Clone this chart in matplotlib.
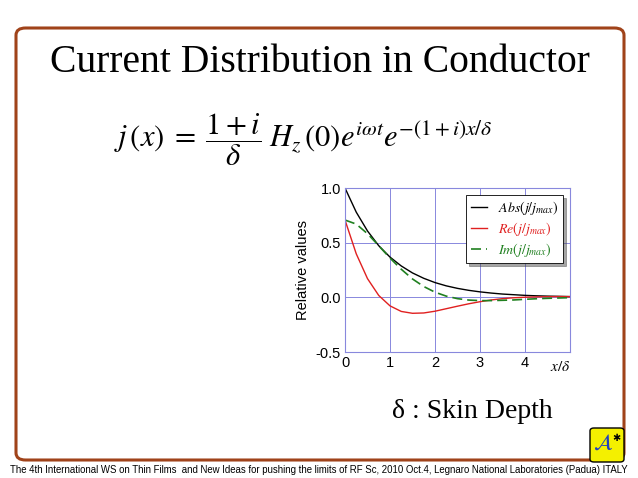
import matplotlib
matplotlib.use("Agg")
import matplotlib.pyplot as plt
import matplotlib.patches as mpatches

plt.rcParams['mathtext.fontset'] = 'stix'
plt.rcParams['font.family'] = ['Liberation Sans', 'DejaVu Sans']

x = [0, .25, .5, .75, 1, 1.25, 1.5, 1.75, 2, 2.25, 2.5, 2.75, 3, 3.25, 3.5, 3.75, 4, 4.25, 4.5, 4.75, 5]
abs_v = [1, .779, .607, .472, .368, .287, .223, .174, .135, .105, .082, .064, .050, .039, .030, .024, .018, .014, .011, .009, .007]
re_v = [.707, .398, .171, .017, -.078, -.129, -.146, -.143, -.127, -.104, -.081, -.059, -.040, -.024, -.012, -.004, .001, .004, .006, .007, .006]
im_v = [.707, .670, .582, .472, .359, .257, .168, .099, .047, .011, -.012, -.025, -.030, -.030, -.027, -.024, -.018, -.013, -.009, -.006, -.003]
xticks = [0, 1, 2, 3, 4]
yticks = [-0.5, 0.0, 0.5, 1.0]

fig = plt.figure(figsize=(6.38, 4.78), dpi=100)
W, H = 638, 478
def fx(p): return p / W
def fy(p): return 1 - p / H

brown = '#a0431a'
fig.add_artist(mpatches.FancyBboxPatch((fx(16), fy(460)), fx(608), fy(28) - fy(460),
               boxstyle="round,pad=0,rounding_size=0.015", transform=fig.transFigure,
               fill=False, edgecolor=brown, lw=2.2))
fig.add_artist(mpatches.FancyBboxPatch((fx(590), fy(462)), fx(34), fy(428) - fy(462),
               boxstyle="round,pad=0,rounding_size=0.006", transform=fig.transFigure,
               facecolor='#f4f000', edgecolor='black', lw=1))
fig.text(fx(603), fy(443), r'$\mathcal{A}$', color='#2040c0', fontsize=16, ha='center', va='center')
fig.text(fx(616), fy(438), '✱', color='black', fontsize=7, ha='center', va='center', family='DejaVu Sans')

fig.text(fx(320), fy(62), 'Current Distribution in Conductor', family='Liberation Serif',
         fontsize=28.5, ha='center', va='center')
fig.text(fx(303), fy(140),
         r'$j\,(x)\;=\;\dfrac{1+i}{\delta}\;H_z\,(0)e^{i\omega t}e^{-(1+i)x/\delta}$',
         fontsize=22, ha='center', va='center')
fig.text(fx(472), fy(412), 'δ : Skin Depth', family='Liberation Serif', fontsize=20,
         ha='center', va='center')
fig.text(fx(319), fy(470), 'The 4th International WS on Thin Films  and New Ideas for pushing the limits of RF Sc, 2010 Oct.4, Legnaro National Laboratories (Padua) ITALY',
         family='Liberation Sans', fontsize=6.9, ha='center', va='center')

ax = fig.add_axes([fx(345), fy(352), fx(570) - fx(345), fy(188) - fy(352)])
ax.plot(x, abs_v, color='black', lw=1, label=r'$\mathit{Abs(j/j_{max})}$')
ax.plot(x, re_v, color='#e02020', lw=1, label=r'$\mathit{Re(j/j_{max})}$')
ax.plot(x, im_v, color='#208020', lw=1.2, ls=(0, (6, 3)), label=r'$\mathit{Im(j/j_{max})}$')
ax.set_xlim(0, 5)
ax.set_ylim(-0.5, 1.0)
ax.set_xticks(xticks)
ax.set_yticks(yticks)
ax.set_yticklabels(['-0.5', '0.0', '0.5', '1.0'])
ax.grid(True, color='#8888dd', lw=0.7)
for s in ax.spines.values():
    s.set_color('#8888dd'); s.set_linewidth(0.8)
ax.tick_params(length=0, labelsize=10.5, pad=3)
ax.set_ylabel('Relative values', fontsize=10.5)
ax.text(5.0, -0.57, r'$x/\delta$', fontsize=11, ha='right', va='top')
leg = ax.legend(loc='upper right', fontsize=10, shadow=True, fancybox=False,
                framealpha=1, edgecolor='black', handlelength=1.2, borderpad=0.3,
                labelspacing=0.2)
leg.get_frame().set_linewidth(0.6)
for t, c in zip(leg.get_texts(), ['black', '#e02020', '#208020']):
    t.set_color(c)

fig.savefig('out.png', dpi=100)
